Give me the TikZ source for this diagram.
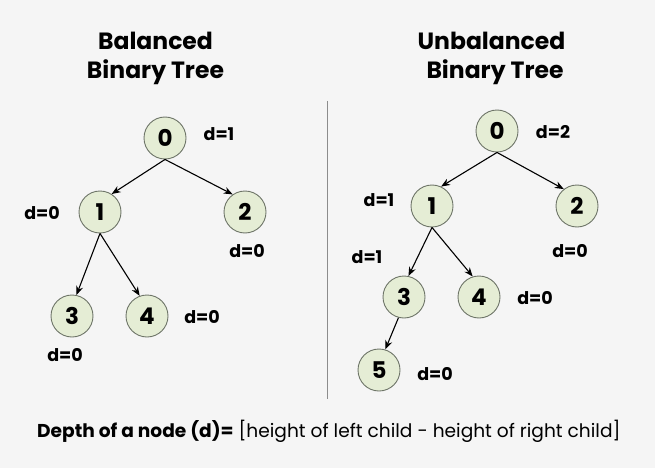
\documentclass[tikz,border=0pt]{standalone}
\usepackage{fontspec}
\setmainfont{Poppins}
\usetikzlibrary{arrows.meta}
\definecolor{bg}{HTML}{F5F5F5}
\definecolor{nodefill}{HTML}{E5EDD5}
\definecolor{nodeline}{HTML}{6E7568}
\definecolor{divider}{HTML}{8C8C8C}
\begin{document}
\begin{tikzpicture}[x=1pt,y=-1pt,
  treenode/.style={circle,draw=nodeline,fill=nodefill,line width=0.9pt,minimum size=42pt,inner sep=0pt,font=\fontsize{23}{27}\selectfont\bfseries},
  dlabel/.style={inner sep=0pt,font=\fontsize{17.5}{20}\selectfont\bfseries},
  titletext/.style={inner sep=0pt,anchor=base,font=\fontsize{23.5}{28}\selectfont\bfseries},
  arr/.style={-{Stealth[length=9pt,width=7pt]},line width=1.1pt,black}]
\fill[bg] (0,0) rectangle (655,468);
\useasboundingbox (0,0) rectangle (655,468);
% titles
\node[titletext] (tl1) at (155.5,49.5) {Balanced};
\node[titletext] (tl2) at (155.5,78.5) {Binary Tree};
\node[titletext] (tr1) at (491.5,49.5) {Unbalanced};
\node[titletext] (tr2) at (495,78.5) {Binary Tree};
% divider
\coordinate (dtop) at (327,101);
\coordinate (dbot) at (327,399);
\draw[divider,line width=1pt] (dtop) -- (dbot);
% left tree
\node[treenode] (l0) at (165,138) {0};
\node[treenode] (l1) at (100,212) {1};
\node[treenode] (l2) at (245,212) {2};
\node[treenode] (l3) at (72,316) {3};
\node[treenode] (l4) at (147,316) {4};
\draw[arr] (l0.south) -- (l1.57);
\draw[arr] (l0.south) -- (l2.125);
\draw[arr] (l1.south) -- (l3.78);
\draw[arr] (l1.south) -- (l4.110);
\node[dlabel] (ld0) at (219,134) {d=1};
\node[dlabel] (ld1) at (42,213) {d=0};
\node[dlabel] (ld2) at (247,251) {d=0};
\node[dlabel] (ld3) at (65,355) {d=0};
\node[dlabel] (ld4) at (202,317) {d=0};
% right tree
\node[treenode] (r0) at (497,131) {0};
\node[treenode] (r1) at (432,206) {1};
\node[treenode] (r2) at (577,206) {2};
\node[treenode] (r3) at (404,297) {3};
\node[treenode] (r4) at (479,297) {4};
\node[treenode] (r5) at (379,370) {5};
\draw[arr] (r0.south) -- (r1.65);
\draw[arr] (r0.south) -- (r2.128);
\draw[arr] (r1.south) -- (r3.78);
\draw[arr] (r1.south) -- (r4.107);
\draw[arr] (r3.-105) -- (r5.73);
\node[dlabel] (rd0) at (553,132) {d=2};
\node[dlabel] (rd1) at (379,200) {d=1};
\node[dlabel] (rd2) at (570,251) {d=0};
\node[dlabel] (rd3) at (367,257) {d=1};
\node[dlabel] (rd4) at (535,298) {d=0};
\node[dlabel] (rd5) at (435,374) {d=0};
% formula
\node[anchor=base west,inner sep=0pt,font=\fontsize{18.6}{23}\selectfont] (formula) at (37,437.5) {\textbf{Depth of a node (d)=} [height of left child - height of right child]};
\end{tikzpicture}
\end{document}
